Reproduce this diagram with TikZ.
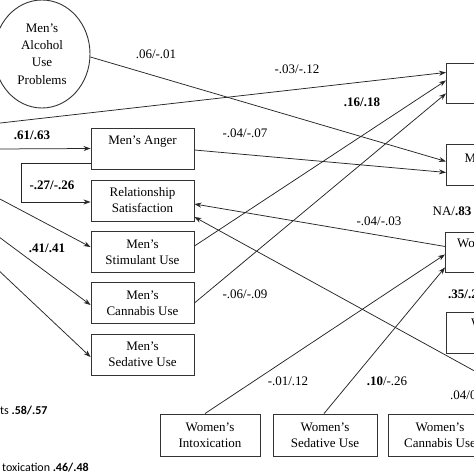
\documentclass[tikz,border=0pt]{standalone}
\usepackage{fontspec}
\setmainfont{Liberation Serif}
\newfontfamily\carl{Carlito}
\usetikzlibrary{shapes.geometric,arrows.meta}
\begin{document}
\begin{tikzpicture}[x=1pt,y=-1pt,
  box/.style={draw=black!80, line width=0.9pt, rectangle, inner sep=0pt, align=center, font=\fontsize{13}{16}\selectfont},
  lbox/.style={box, minimum width=103pt, minimum height=41pt},
  wbox/.style={box, minimum height=42pt},
  rbox/.style={box, minimum width=110pt, anchor=north west},
  lab/.style={font=\fontsize{13}{15}\selectfont, inner sep=0pt},
  note/.style={font=\carl\fontsize{12}{14}\selectfont, inner sep=0pt, anchor=west},
  con/.style={draw=black!85, line width=0.75pt},
  arr/.style={con, -{Stealth[length=7pt,width=5pt]}},
]
\useasboundingbox (0,0) rectangle (474,474);
\clip (0,0) rectangle (474,474);
\fill[white] (0,0) rectangle (474,474);

% ellipse
\node[ellipse, draw=black!80, line width=0.9pt, minimum width=96pt, minimum height=108pt, inner sep=0pt, align=center, font=\fontsize{13}{17.3}\selectfont] (alc) at (42,54) {Men’s\\Alcohol\\Use\\Problems};

% left boxes
\node[lbox] (anger) at (142.5,148.5) {Men’s Anger\\\mbox{}};
\node[lbox] (rel) at (142.5,200.5) {Relationship\\Satisfaction};
\node[lbox] (stim) at (142.5,252) {Men’s\\Stimulant Use};
\node[lbox] (cann) at (142.5,303) {Men’s\\Cannabis Use};
\node[lbox] (sed) at (142.5,354.5) {Men’s\\Sedative Use};

% bottom boxes
\node[wbox, minimum width=100pt] (intox) at (210,435) {Women’s\\Intoxication};
\node[wbox, minimum width=104pt] (sedW) at (325,435) {Women’s\\Sedative Use};
\node[wbox, minimum width=104pt] (cannW) at (440,435) {Women’s\\Cannabis Use};

% right boxes
\node[rbox, minimum height=40pt] (rb1) at (446,63) {};
\node[rbox, minimum height=41pt] (rbM) at (446,144) {};
\node[rbox, minimum height=40pt] (rbW) at (445,232) {};
\node[rbox, minimum height=41pt] (rb4) at (446,312) {};
\node[lab, anchor=west] (tM) at (464.5,158) {M};
\node[lab, anchor=west] (tW) at (457,243) {Wo};
\node[lab, anchor=west] (tW4) at (471,323) {W};

% free ends
\coordinate (lf1) at (-5,123.6);
\coordinate (lf2) at (-5,149);
\coordinate (lf3) at (-5,196.4);
\coordinate (lf4) at (-5,234);
\coordinate (lf5) at (-5,267);
\coordinate (lf6) at (480,374);

% connectors
\draw[arr] (lf1) -- ([yshift=11pt]rb1.west);
\draw[arr] ([yshift=6pt]stim.east) -- ([yshift=3pt]rb1.west);
\draw[arr] (cann.east) -- ([yshift=-10pt]rb1.west);
\draw[arr] ([yshift=-3pt]alc.east) -- ([yshift=3.5pt]rbM.west);
\draw[arr] ([yshift=-1.5pt]anger.east) -- ([yshift=-7.5pt]rbM.west);
\draw[arr] ([yshift=6pt]rbW.west) -- ([yshift=-3.5pt]rel.east);
\draw[arr] (lf6) -- ([yshift=-16.5pt]rel.east);
\draw[arr] ([xshift=-5pt]intox.north) -- ([yshift=-2pt]rbW.west);
\draw[arr] ([xshift=-1pt]sedW.north) -- ([yshift=-15pt]rbW.west);
\draw[arr] (lf2) -- (anger.west);
\draw[arr] ([yshift=-14.5pt]anger.west) -- ++(-69,0) |- ([yshift=-1.5pt]rel.west);
\draw[arr] (lf3) -- ([yshift=5pt]stim.west);
\draw[arr] (lf4) -- ([yshift=-2pt]cann.west);
\draw[arr] (lf5) -- ([yshift=-2.5pt]sed.west);

% labels
\node[lab] (l1) at (156,54) {.06/-.01};
\node[lab] (l2) at (297,69) {-.03/-.12};
\node[lab] (l3) at (362,102) {\textbf{.16/.18}};
\node[lab] (l4) at (32,135) {\textbf{.61/.63}};
\node[lab] (l5) at (245,133) {-.04/-.07};
\node[lab] (l6) at (52,185) {\textbf{-.27/-.26}};
\node[lab] (l7) at (452,211) {NA/\textbf{.83}};
\node[lab] (l8) at (379,221) {-.04/-.03};
\node[lab] (l9) at (47,248) {\textbf{.41/.41}};
\node[lab] (l10) at (245,294) {-.06/-.09};
\node[lab, anchor=west] (l11) at (448,294) {\textbf{.35/.2}};
\node[lab] (l12) at (288,381) {-.01/.12};
\node[lab] (l13) at (387,381) {\textbf{.10}/-.26};
\node[lab, anchor=west] (l14) at (450,395) {.04/0};
\node[note] (n1) at (0,411) {ts \textbf{.58/.57}};
\node[note] (n2) at (2,468) {toxication \textbf{.46/.48}};
\end{tikzpicture}
\end{document}
